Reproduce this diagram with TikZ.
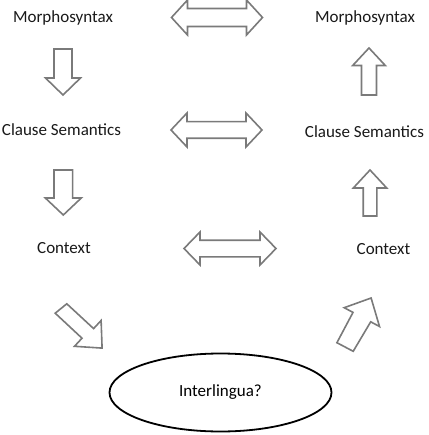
\documentclass[tikz,border=0pt]{standalone}
\usepackage{fontspec}
\setmainfont{Carlito}
\usetikzlibrary{shapes.geometric}
\begin{document}
\begin{tikzpicture}[x=1pt,y=-1pt,
  arrowline/.style={draw=black!52, line width=1.6pt, line join=miter, fill=white},
  txt/.style={inner sep=0pt, font=\fontsize{17}{20}\selectfont, text=black!90},
  bubble/.style={ellipse, draw=black, line width=1.8pt, minimum width=222pt, minimum height=78pt, inner sep=0pt, font=\fontsize{17}{20}\selectfont}]
\useasboundingbox (0,0) rectangle (428,435);
% labels
\node[txt] (lm) at (63,18) {Morphosyntax};
\node[txt] (rm) at (365,18) {Morphosyntax};
\node[txt] (lc) at (61.5,130) {Clause Semantics};
\node[txt] (rc) at (364.5,132) {Clause Semantics};
\node[txt] (lx) at (64,248) {Context};
\node[txt] (rx) at (383.5,249) {Context};
\node[bubble] (il) at (220.5,392.5) {Interlingua?};
% double arrows
\draw[arrowline] (171.5,17.5) -- (187.5,0) -- (187.5,8.5) -- (246.5,8.5) -- (246.5,0) -- (262.5,17.5)
  -- (246.5,35) -- (246.5,26.5) -- (187.5,26.5) -- (187.5,35) -- cycle;
\draw[arrowline] (171,130) -- (187,113) -- (187,121.7) -- (246,121.7) -- (246,113) -- (262,130)
  -- (246,147) -- (246,138.3) -- (187,138.3) -- (187,147) -- cycle;
\draw[arrowline] (184,248.5) -- (200,232) -- (200,240.2) -- (260,240.2) -- (260,232) -- (276,248.5)
  -- (260,265) -- (260,256.8) -- (200,256.8) -- (200,265) -- cycle;
% left column (down)
\draw[arrowline] (54,49) -- (54,78) -- (45.5,78) -- (63,95) -- (80.5,78) -- (72,78) -- (72,49) -- cycle;
\draw[arrowline] (54,170) -- (54,198) -- (45.3,198) -- (63.3,215) -- (81.3,198) -- (72.6,198) -- (72.6,170) -- cycle;
% right column (up)
\draw[arrowline] (361.5,95) -- (361.5,65.5) -- (352.7,65.5) -- (369,48) -- (385.3,65.5) -- (376.5,65.5) -- (376.5,95) -- cycle;
\draw[arrowline] (363.2,216) -- (363.2,188) -- (353.3,188) -- (370,170) -- (386.7,188) -- (376.8,188) -- (376.8,216) -- cycle;
% diagonals
\draw[arrowline] (66.8,303.8) -- (93.6,328.6) -- (101.1,320.5) -- (102.1,348.1) -- (74.5,346.3) -- (82,338.2) -- (55.2,313.2) -- cycle;
\draw[arrowline] (336.9,342.7) -- (353,312.4) -- (344.2,307.7) -- (371.1,298) -- (379.5,326.5) -- (370.7,321.8) -- (353.2,351.3) -- cycle;
\end{tikzpicture}
\end{document}
